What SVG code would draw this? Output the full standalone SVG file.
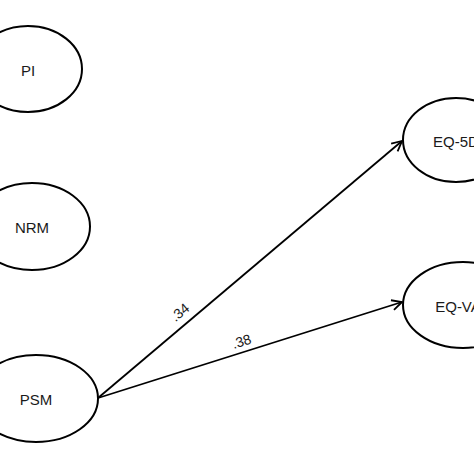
<svg xmlns="http://www.w3.org/2000/svg" width="474" height="474" viewBox="0 0 474 474">
<defs>
<style>
.node ellipse{fill:#fff;stroke:#000;stroke-width:2}
.node text{font-family:"Liberation Sans",Arial,sans-serif;font-size:15px;fill:#1a1a1a;text-anchor:middle}
.edge line{stroke:#000;stroke-width:1.8;fill:none}
.lbl{font-family:"Liberation Sans",Arial,sans-serif;font-size:14px;fill:#1a1a1a;text-anchor:middle}
</style>
<marker id="arr" viewBox="0 0 12 12" refX="11" refY="6" markerWidth="12" markerHeight="12" markerUnits="userSpaceOnUse" orient="auto">
<path d="M1,1 L11,6 L1,11" fill="none" stroke="#000" stroke-width="1.8"/>
</marker>
</defs>
<rect width="474" height="474" fill="#fff"/>
<g id="edges" class="edge">
<line x1="98" y1="398" x2="402" y2="141" marker-end="url(#arr)"/>
<line x1="98" y1="398" x2="402" y2="302" marker-end="url(#arr)"/>
<text class="lbl" transform="translate(183,316) rotate(-40)">.34</text>
<text class="lbl" transform="translate(243,346) rotate(-17.5)">.38</text>
</g>
<g id="PI" class="node"><ellipse cx="28" cy="69" rx="54" ry="43"/><text x="28" y="76">PI</text></g>
<g id="NRM" class="node"><ellipse cx="32" cy="226.5" rx="58" ry="43.5"/><text x="32" y="233">NRM</text></g>
<g id="PSM" class="node"><ellipse cx="36" cy="398.5" rx="62" ry="43.5"/><text x="36" y="405">PSM</text></g>
<g id="EQ5D" class="node"><ellipse cx="456" cy="140" rx="53" ry="42"/><text x="456" y="147">EQ-5D</text></g>
<g id="EQVAS" class="node"><ellipse cx="463" cy="305" rx="60" ry="43"/><text x="463" y="312">EQ-VAS</text></g>
</svg>
